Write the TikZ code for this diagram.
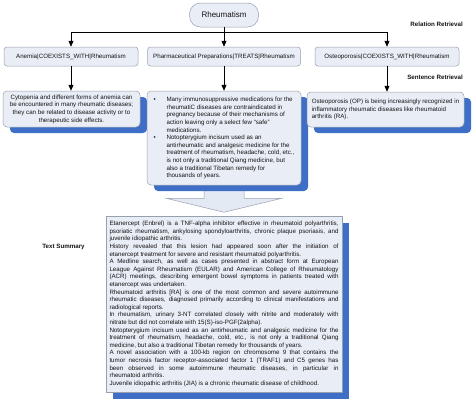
\documentclass[tikz,border=0pt]{standalone}
\usepackage{fontspec}
\setmainfont{Liberation Sans}
\usetikzlibrary{arrows.meta,shadows,calc,backgrounds}
\setlength{\parindent}{0pt}
\definecolor{boxfill}{HTML}{E9EDF5}
\definecolor{boxdraw}{HTML}{979FB0}
\definecolor{shadowblue}{HTML}{3F6EC6}
\definecolor{arrfill}{HTML}{E4EAF4}
\newcommand{\jl}[1]{\hbox to 229pt{\spaceskip=0.27em plus 3em minus 0.06em\relax #1}}
\newcommand{\lastl}[1]{\hbox to 229pt{#1\hfil}}
\newcommand{\bl}{\makebox[13pt][l]{\textbullet}}
\newcommand{\ind}{\hspace*{13pt}}
\tikzset{
  txt/.style={font=\fontsize{6.2}{7.6}\selectfont, text=black!92},
  relbox/.style={txt, draw=boxdraw, fill=boxfill, rounded corners=3pt, line width=0.5pt, minimum height=19, inner sep=2pt, align=center},
  sentbox/.style={txt, draw=boxdraw, fill=boxfill, rounded corners=4pt, line width=0.5pt, inner sep=3pt,
     drop shadow={shadow xshift=7pt, shadow yshift=-6pt, fill=shadowblue, opacity=1}},
  sumbox/.style={txt, draw=boxdraw, fill=boxfill, line width=0.5pt, inner xsep=3.5pt, inner ysep=2pt,
     drop shadow={shadow xshift=7pt, shadow yshift=-7pt, fill=shadowblue, opacity=1}},
  conn/.style={draw=black, line width=0.7pt},
  arr/.style={conn, -{Triangle[length=6pt,width=5pt]}},
  lbl/.style={font=\fontsize{6.2}{7.6}\selectfont\bfseries, text=black!92, inner sep=0pt},
}
\begin{document}
\begin{tikzpicture}[x=1pt,y=-1pt]
\useasboundingbox (0,0) rectangle (474,402);

% root
\node[draw=boxdraw, fill=boxfill, line width=0.5pt, rounded corners=11pt, minimum width=69, minimum height=24, inner sep=0pt,
      font=\fontsize{8}{9}\selectfont, text=black!92] (root) at (224,15) {Rheumatism};

% relation boxes
\node[relbox, minimum width=134] (anemia) at (71,56.5) {Anemia|COEXISTS\_WITH|Rheumatism};
\node[relbox, minimum width=153] (pharma) at (224,56.5) {Pharmaceutical Preparations|TREATS|Rheumatism};
\node[relbox, minimum width=144] (osteo) at (387,56.5) {Osteoporosis|COEXISTS\_WITH|Rheumatism};

% sentence boxes
\node[sentbox, minimum width=137, minimum height=36, align=center] (sleft) at (71.5,109)
 {Cytopenia and different forms of anemia can\\
  be encountered in many rheumatic diseases;\\
  they can be related to disease activity or to\\
  therapeutic side effects.};
\node[sentbox, minimum width=154, minimum height=94, align=left, shadow yshift=-7pt] (smid) at (224,138)
 {\bl Many immunosuppressive medications for the\\
  \ind rheumatiC diseases are contraindicated in\\
  \ind pregnancy because of their mechanisms of\\
  \ind action leaving only a select few ``safe''\\
  \ind medications.\\
  \bl Notopterygium incisum used as an\\
  \ind antirheumatic and analgesic medicine for the\\
  \ind treatment of rheumatism, headache, cold, etc.,\\
  \ind is not only a traditional Qiang medicine, but\\
  \ind also a traditional Tibetan remedy for\\
  \ind thousands of years.};
\node[sentbox, minimum width=157, minimum height=35, align=left] (sright) at (385.5,109.5)
 {Osteoporosis (OP) is being increasingly recognized in\\
  inflammatory rheumatic diseases like rheumatoid\\
  arthritis (RA).};

% summary
\node[sumbox, minimum width=236, minimum height=176] (sum) at (224,304)
 {\begin{tabular}{@{}l@{}}
  \jl{Etanercept (Enbrel) is a TNF-alpha inhibitor effective in rheumatoid polyarthritis,}\\
  \jl{psoriatic rheumatism, ankylosing spondyloarthritis, chronic plaque psoriasis, and}\\
  \lastl{juvenile idiopathic arthritis.}\\
  \jl{History revealed that this lesion had appeared soon after the initiation of}\\
  \lastl{etanercept treatment for severe and resistant rheumatoid polyarthritis.}\\
  \jl{A Medline search, as well as cases presented in abstract form at European}\\
  \jl{League Against Rheumatism (EULAR) and American College of Rheumatology}\\
  \jl{(ACR) meetings, describing emergent bowel symptoms in patients treated with}\\
  \lastl{etanercept was undertaken.}\\
  \jl{Rheumatoid arthritis [RA] is one of the most common and severe autoimmune}\\
  \jl{rheumatic diseases, diagnosed primarily according to clinical manifestations and}\\
  \lastl{radiological reports.}\\
  \jl{In rheumatism, urinary 3-NT correlated closely with nitrite and moderately with}\\
  \lastl{nitrate but did not correlate with 15(S)-iso-PGF(2alpha).}\\
  \jl{Notopterygium incisum used as an antirheumatic and analgesic medicine for the}\\
  \jl{treatment of rheumatism, headache, cold, etc., is not only a traditional Qiang}\\
  \lastl{medicine, but also a traditional Tibetan remedy for thousands of years.}\\
  \jl{A novel association with a 100-kb region on chromosome 9 that contains the}\\
  \jl{tumor necrosis factor receptor-associated factor 1 (TRAF1) and C5 genes has}\\
  \jl{been observed in some autoimmune rheumatic diseases, in particular in}\\
  \lastl{rheumatoid arthritis.}\\
  \lastl{Juvenile idiopathic arthritis (JIA) is a chronic rheumatic disease of childhood.}
  \end{tabular}};

% block arrow from middle box to summary
\begin{pgfonlayer}{background}
\draw[fill=arrfill, draw=boxdraw, line width=0.5pt]
  ($(smid.south)+(-20,0)$) -- ($(smid.south)+(-20,13)$) -- ($(smid.south)+(-58,13)$)
  -- ($(smid.south)+(0,27)$) -- ($(smid.south)+(58,13)$) -- ($(smid.south)+(20,13)$)
  -- ($(smid.south)+(20,0)$) -- cycle;
\end{pgfonlayer}

% connectors
\coordinate (hub) at (224,32);
\draw[conn] (root.south) -- (hub);
\draw[arr] (hub) -| (anemia.north);
\draw[arr] (hub) -| (osteo.north);
\draw[arr] (hub) -- (pharma.north);
\draw[arr] (anemia.south) -- (anemia.south |- sleft.north);
\draw[arr] (pharma.south) -- (pharma.south |- smid.north);
\draw[arr] (osteo.south) -- (osteo.south |- sright.north);

% labels
\node[lbl, anchor=east] (lrel) at (463,24) {Relation Retrieval};
\node[lbl, anchor=east] (lsent) at (463,77) {Sentence Retrieval};
\node[lbl] (lsum) at (63.5,247) {Text Summary};
\end{tikzpicture}
\end{document}
